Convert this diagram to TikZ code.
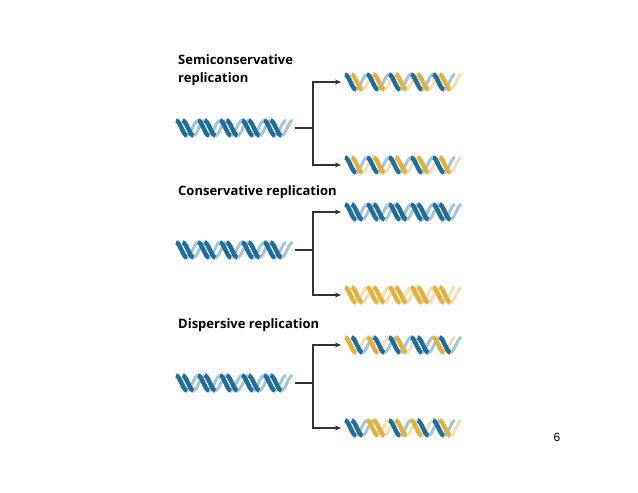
\documentclass[tikz,border=0pt]{standalone}
\usepackage{fontspec}
\setmainfont{Open Sans}
\newfontfamily\numfont{Liberation Sans}
\definecolor{hb}{HTML}{1E6E9C}
\definecolor{hg}{HTML}{E0B23C}
\usetikzlibrary{arrows.meta}
\tikzset{lab/.style={anchor=north west,font=\bfseries\fontsize{13}{18}\selectfont,align=left,inner sep=0pt},
 arr/.style={draw=black!80,line width=1.1pt,-{Stealth[length=6pt,width=5pt]}},
 ln/.style={draw=black!80,line width=1.1pt}}
\newcommand{\helix}[3]{%
 \begin{scope}[shift={(#1,#2)}]
 \foreach \t/\ca/\cb in {#3}{%
   \draw[\ca!40!white,line width=3pt,line cap=butt] plot[domain={\t*22+11}:{\t*22+22},samples=12] (\x,{-7.5*cos(16.3636*\x)});
   \draw[\cb!40!white,line width=3pt,line cap=butt] plot[domain={\t*22+11}:{\t*22+22},samples=12] ({\x+6.5},{-7.5*cos(16.3636*\x)});
 }
 \foreach \t/\ca/\cb in {#3}{%
   \draw[\ca,line width=4.4pt,line cap=butt] plot[domain={\t*22}:{\t*22+11},samples=12] (\x,{-7.5*cos(16.3636*\x)});
   \draw[\cb,line width=4.4pt,line cap=butt] plot[domain={\t*22}:{\t*22+11},samples=12] ({\x+6.5},{-7.5*cos(16.3636*\x)});
 }
 \end{scope}}
\begin{document}
\begin{tikzpicture}[x=1pt,y=-1pt]
\useasboundingbox[fill=white] (0,0) rectangle (638,493);
\node[lab] (l1) at (178,54) {Semiconservative\\replication};
\node[lab] (l2) at (178,185) {Conservative replication};
\node[lab] (l3) at (178,318) {Dispersive replication};
\node[font=\numfont\fontsize{12}{14}\selectfont] (p) at (557,437) {6};
\helix{176}{128}{0/hb/hb,1/hb/hb,2/hb/hb,3/hb/hb,4/hb/hb}
\helix{176}{250}{0/hb/hb,1/hb/hb,2/hb/hb,3/hb/hb,4/hb/hb}
\helix{176}{383}{0/hb/hb,1/hb/hb,2/hb/hb,3/hb/hb,4/hb/hb}
\helix{345}{82}{0/hb/hg,1/hb/hg,2/hb/hg,3/hb/hg,4/hb/hg}
\helix{345}{165}{0/hb/hg,1/hb/hg,2/hb/hg,3/hb/hg,4/hb/hg}
\helix{345}{212}{0/hb/hb,1/hb/hb,2/hb/hb,3/hb/hb,4/hb/hb}
\helix{345}{295}{0/hg/hg,1/hg/hg,2/hg/hg,3/hg/hg,4/hg/hg}
\helix{345}{345}{0/hg/hb,1/hg/hb,2/hb/hg,3/hb/hb,4/hg/hb}
\helix{345}{428}{0/hb/hb,1/hg/hg,2/hb/hg,3/hg/hb,4/hb/hg}
\foreach \a/\b/\c in {128/82/165,250/212/295,383/345/428}{
 \coordinate (s) at (295,\a); \coordinate (m) at (313,\a);
 \coordinate (t) at (313,\b); \coordinate (u) at (313,\c);
 \coordinate (et) at (341,\b); \coordinate (eu) at (341,\c);
 \draw[ln] (s) -- (m);
 \draw[arr] (m) -- (t) -- (et);
 \draw[arr] (m) -- (u) -- (eu);
}
\end{tikzpicture}
\end{document}
